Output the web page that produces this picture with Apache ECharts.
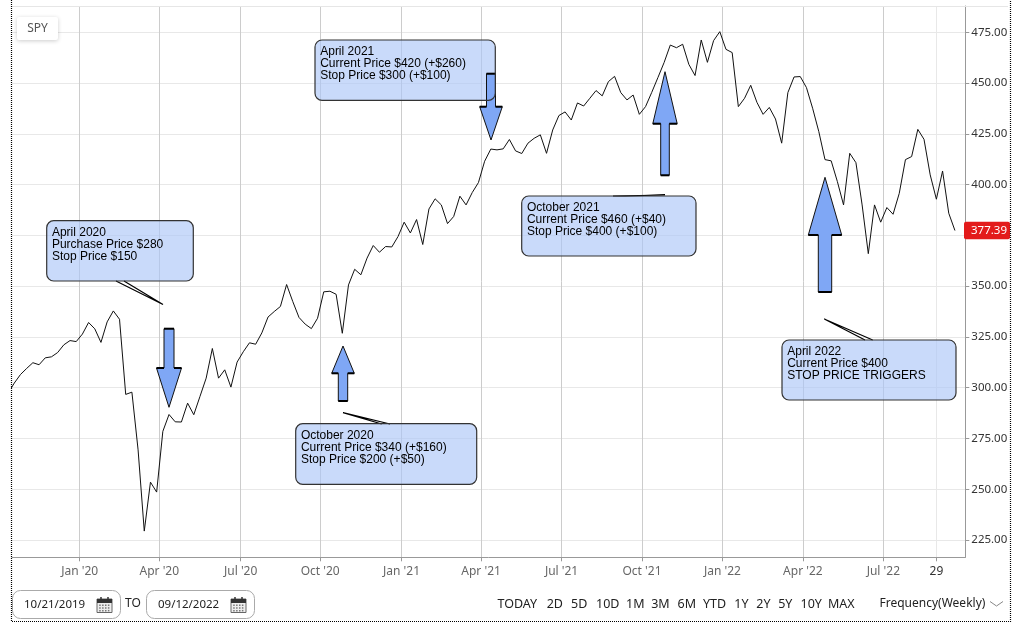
<!DOCTYPE html>
<html>
<head>
<meta charset="utf-8">
<title>SPY</title>
<script src="https://cdn.jsdelivr.net/npm/echarts@6/dist/echarts.min.js"></script>
<style>
  html, body { margin: 0; padding: 0; background: #fff; }
  #chart { width: 1023px; height: 626px; }
</style>
</head>
<body>
<div id="chart"></div>
<script>
// weekly closes, first one sits just left of the plot and gets clipped
var firstWeek = '2019-10-14';
var prices = [
  297.3, 302.3, 306.5, 309.5, 312.3, 311.3, 314.7, 315.2, 317.3, 321.1, 323.2,
  322.7, 326.4, 332.1, 329.0, 322.3, 332.4, 337.8, 333.7, 296.7, 297.8, 269.4,
  229.4, 253.5, 248.6, 278.5, 286.8, 283.2, 283.1, 292.4, 286.7, 295.7, 304.7,
  319.3, 304.7, 308.8, 300.3, 312.6, 317.7, 322.1, 321.4, 327.0, 334.8, 337.5,
  340.0, 350.8, 342.4, 334.6, 331.3, 329.1, 334.2, 347.2, 347.5, 346.0, 326.8,
  350.6, 358.3, 355.6, 363.8, 370.0, 366.7, 369.5, 369.3, 374.4, 381.5, 376.2,
  382.8, 370.5, 388.0, 393.0, 390.0, 380.8, 384.3, 394.3, 390.0, 396.1, 401.0,
  411.5, 417.5, 417.1, 417.6, 422.2, 416.6, 415.3, 420.4, 422.8, 424.5, 415.4,
  426.9, 434.0, 435.8, 431.8, 440.2, 438.7, 442.5, 446.3, 443.7, 450.7, 453.3,
  445.3, 441.7, 444.1, 434.6, 438.4, 445.4, 452.7, 460.1, 468.7, 467.4, 469.1,
  459.2, 453.7, 471.2, 460.2, 470.9, 475.3, 466.6, 465.0, 438.4, 442.5, 448.9,
  440.5, 434.6, 438.0, 432.3, 420.4, 445.3, 453.0, 453.2, 447.8, 437.6, 426.1,
  412.3, 411.7, 401.5, 390.0, 415.4, 410.8, 390.0, 366.0, 390.0, 381.5, 388.7,
  385.4, 395.7, 412.3, 413.8, 427.2, 422.3, 404.8, 392.8, 406.7, 385.9, 377.39
];

var xTickDates = ['2020-01-03', '2020-04-02', '2020-07-03', '2020-10-01', '2021-01-01', '2021-04-01',
  '2021-07-01', '2021-09-30', '2021-12-30', '2022-03-31', '2022-06-30', '2022-08-29'];
var xTickLabels = ["Jan '20", "Apr '20", "Jul '20", "Oct '20", "Jan '21", "Apr '21",
  "Jul '21", "Oct '21", "Jan '22", "Apr '22", "Jul '22", '29'];
var yTicks = [225, 250, 275, 300, 325, 350, 375, 400, 425, 450, 475];

var rangeButtons = ['TODAY', '2D', '5D', '10D', '1M', '3M', '6M', 'YTD', '1Y', '2Y', '5Y', '10Y', 'MAX'];

var uiFont = '"Noto Sans", sans-serif';
var noteFont = '12px "Liberation Sans", Arial, sans-serif';
var WEEK = 7 * 24 * 3600 * 1000;

var xTicks = xTickDates.map(function (d) { return Date.parse(d); });
var seriesData = prices.map(function (p, i) {
  return [Date.parse(firstWeek) + i * WEEK, p];
});

var myChart = echarts.init(document.getElementById('chart'));

myChart.setOption({
  animation: false,
  backgroundColor: '#fff',
  grid: { left: 12, right: 57.7, top: 6, bottom: 68.7, containLabel: false },
  xAxis: {
    // value axis over timestamps: custom ticks crash on a time axis
    type: 'value',
    min: Date.UTC(2019, 9, 18, 9),
    max: Date.UTC(2022, 8, 30, 17),
    axisLine: { lineStyle: { color: '#999', width: 1 } },
    axisTick: { customValues: xTicks, length: 4, lineStyle: { color: '#999' } },
    axisLabel: {
      customValues: xTicks,
      margin: 8,
      fontFamily: uiFont,
      fontSize: 12,
      color: function (v) { return xTicks.indexOf(+v) === xTicks.length - 1 ? '#333' : '#666'; },
      formatter: function (v) { return xTickLabels[xTicks.indexOf(+v)]; }
    },
    splitLine: {
      show: true,
      lineStyle: { color: ['#ccc', '#ccc', '#ccc', '#ccc', '#ccc', '#ccc', '#ccc', '#ccc', '#ccc', '#ccc', '#ccc', '#e8e8e8'], width: 1 }
    }
  },
  yAxis: {
    type: 'value',
    position: 'right',
    min: 216.49,
    max: 487.94,
    axisLine: { show: true, lineStyle: { color: '#999', width: 1 } },
    axisTick: { show: true, customValues: yTicks, length: 4, lineStyle: { color: '#999' } },
    axisLabel: {
      customValues: yTicks,
      margin: 6,
      fontFamily: uiFont,
      fontSize: 11.5,
      color: '#333',
      formatter: function (v) { return Number(v).toFixed(2); }
    },
    splitLine: { show: true, lineStyle: { color: '#e8e8e8', width: 1 } }
  },
  series: [{
    type: 'line',
    data: seriesData,
    showSymbol: false,
    smooth: false,
    clip: true,
    lineStyle: { color: '#111', width: 1 }
  }]
});

// overlay drawing: callouts and arrows were pasted on top of the chart
var elements = [];

function line(points, color, width, dash, z) {
  elements.push({
    type: 'polyline', silent: true, z: z || 10,
    shape: { points: points },
    style: { stroke: color, lineWidth: width, fill: null, lineDash: dash || null }
  });
}

function label(text, x, y, opts) {
  opts = opts || {};
  elements.push({
    type: 'text', silent: true, z: opts.z || 12,
    style: {
      text: text, x: x, y: y,
      font: opts.font || ('12px ' + uiFont),
      fill: opts.fill || '#222',
      align: opts.align || 'left',
      verticalAlign: opts.verticalAlign || 'middle',
      lineHeight: opts.lineHeight
    }
  });
}

function box(x0, y0, x1, y1, radius, fill, stroke, z, width) {
  elements.push({
    type: 'rect', silent: true, z: z || 10,
    shape: { x: x0, y: y0, width: x1 - x0, height: y1 - y0, r: radius },
    style: { fill: fill, stroke: stroke, lineWidth: width || 1 }
  });
}

var noteFill = 'rgba(172,198,248,0.65)';
var noteStroke = '#333';

function note(rect, tail, lines) {
  box(rect[0], rect[1], rect[2], rect[3], 7, noteFill, null, 10);
  if (tail) {
    line(tail, '#000', 1.2, null, 13);
  }
  box(rect[0], rect[1], rect[2], rect[3], 7, null, noteStroke, 13, 1.2);
  label(lines.join('\n'), rect[0] + 5.2, rect[1] + 6, {
    font: noteFont, fill: '#000', verticalAlign: 'top', lineHeight: 12, z: 14
  });
}

// flat is the y of the blunt end, shoulder the y of the head base
function arrow(cx, tipY, shoulderY, flatY, headHalf, shaftHalf) {
  var pts = [
    [cx, tipY], [cx + headHalf, shoulderY], [cx + shaftHalf, shoulderY], [cx + shaftHalf, flatY],
    [cx - shaftHalf, flatY], [cx - shaftHalf, shoulderY], [cx - headHalf, shoulderY]
  ];
  elements.push({
    type: 'polygon', silent: true, z: 11,
    shape: { points: pts },
    style: { fill: '#7fa7f5', stroke: '#111', lineWidth: 1 }
  });
  // heavier edges facing up/down, as in the original shape shadow
  line([[cx - shaftHalf, flatY], [cx + shaftHalf, flatY]], '#000', 2, null, 12);
  line([[cx - headHalf, shoulderY], [cx - shaftHalf, shoulderY]], '#000', 2, null, 12);
  line([[cx + shaftHalf, shoulderY], [cx + headHalf, shoulderY]], '#000', 2, null, 12);
}

arrow(169, 407.3, 368, 328.7, 12.5, 5);
arrow(343, 346, 373.3, 401, 11.3, 4.7);
arrow(491, 140, 106.7, 73.7, 11.3, 4.5);
arrow(665, 71.7, 123.7, 175.3, 12.2, 4.3);
arrow(825, 177.3, 235, 292, 16.7, 6.7);

note([46.7, 220.7, 193.3, 281], [[116, 281], [163, 304.5], [124, 281]],
  ['April 2020', 'Purchase Price $280', 'Stop Price $150']);
note([295.7, 423.7, 476.7, 484.3], [[381.7, 424], [343, 412.7], [390, 424]],
  ['October 2020', 'Current Price $340 (+$160)', 'Stop Price $200 (+$50)']);
note([315, 40, 495.3, 100.3], null,
  ['April 2021', 'Current Price $420 (+$260)', 'Stop Price $300 (+$100)']);
note([521.7, 196, 696, 256], [[613, 196], [665, 195], [625, 196]],
  ['October 2021', 'Current Price $460 (+$40)', 'Stop Price $400 (+$100)']);
note([782, 340, 956, 400], [[865, 340], [824.3, 319], [872.7, 340]],
  ['April 2022', 'Current Price $400', 'STOP PRICE TRIGGERS']);

// last price tag follows the axis scale
var lastPrice = prices[prices.length - 1];
var lastY = myChart.convertToPixel({ yAxisIndex: 0 }, lastPrice);
box(964, lastY - 8.8, 1010, lastY + 8.8, 2, '#e31a1a', null, 15);
label(lastPrice.toFixed(2), 989, lastY, { fill: '#fff', align: 'center', z: 16, font: '11.5px ' + uiFont });

// symbol chip
elements.push({
  type: 'rect', silent: true, z: 10,
  shape: { x: 17, y: 17, width: 41, height: 23, r: 2 },
  style: { fill: '#fff', shadowBlur: 4, shadowColor: 'rgba(0,0,0,0.2)', shadowOffsetY: 1 }
});
label('SPY', 37.5, 28.8, { fill: '#555', align: 'center' });

// page chrome
line([[12, 6.5], [1008, 6.5]], '#e6e6e6', 1, null, 1);
line([[11.5, 0], [11.5, 621.5], [1010.5, 621.5], [1010.5, 0]], '#000', 1.2, [1, 1], 20);

function calendar(x, y) {
  box(x, y + 2, x + 15, y + 15.5, 0, '#eee', '#666', 10);
  elements.push({
    type: 'rect', silent: true, z: 11,
    shape: { x: x, y: y + 2, width: 15, height: 4 },
    style: { fill: '#333' }
  });
  line([[x + 4, y], [x + 4, y + 3]], '#333', 1.5, null, 11);
  line([[x + 11, y], [x + 11, y + 3]], '#333', 1.5, null, 11);
  for (var r = 0; r < 3; r++) {
    for (var c = 0; c < 4; c++) {
      elements.push({
        type: 'rect', silent: true, z: 11,
        shape: { x: x + 2.2 + c * 2.9, y: y + 7.5 + r * 2.7, width: 1.5, height: 1.5 },
        style: { fill: '#777' }
      });
    }
  }
}

var smallFont = '11.5px ' + uiFont;
box(12.5, 590.5, 120.5, 618.5, 8, '#fff', '#aaa', 10);
box(146.5, 590.5, 254.5, 618.5, 8, '#fff', '#aaa', 10);
label('10/21/2019', 24, 605, { font: smallFont });
label('TO', 125, 604);
label('09/12/2022', 158, 605, { font: smallFont });
calendar(97, 597);
calendar(231, 597);

var buttonX = [497.5, 546.7, 571, 596, 626, 651.2, 677.5, 703, 734.3, 756.3, 778.2, 800.5, 828];
rangeButtons.forEach(function (b, i) { label(b, buttonX[i], 604, { font: '12.5px ' + uiFont }); });
label('Frequency(Weekly)', 879.5, 604);
line([[990, 601.5], [996.5, 606], [1003, 601.5]], '#888', 1);

myChart.setOption({ graphic: { elements: elements } });
</script>
</body>
</html>
